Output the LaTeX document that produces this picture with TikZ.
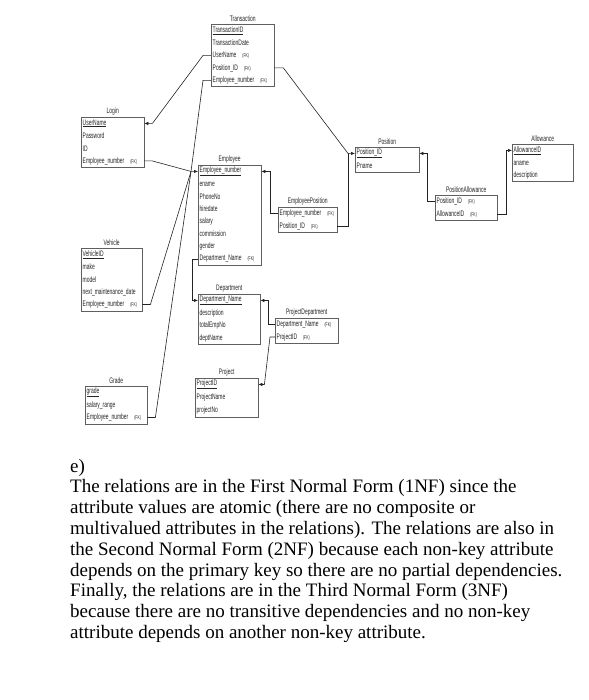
\documentclass[tikz,border=0pt]{standalone}
\usepackage{fontspec}
\setmainfont{Liberation Serif}
\newfontfamily\erfont[FakeStretch=0.62]{Liberation Sans}
\usetikzlibrary{arrows.meta, positioning, calc}
\definecolor{boxgray}{RGB}{95,95,95}
\definecolor{inkgray}{RGB}{35,35,35}
\newcommand{\fk}{\hspace{6pt}{\fontsize{5.5}{6}\selectfont(FK)}}
\newcommand{\pk}[1]{\underline{#1}}
\tikzset{
  erow/.style={anchor=north west, inner xsep=1.5pt, inner ysep=0pt, minimum height=12.5pt,
    text width=#1, align=left, font=\erfont\fontsize{8}{9}\selectfont, text=inkgray},
  etitle/.style={inner sep=1pt, font=\erfont\fontsize{8}{9}\selectfont, text=inkgray},
  ebox/.style={draw=boxgray, line width=0.8pt},
  rel/.style={draw=inkgray, line width=0.6pt},
  relto/.style={rel, -{Latex[length=4pt,width=3.5pt]}},
  essay/.style={anchor=base west, inner sep=0pt, font=\fontsize{19}{21}\selectfont},
}
\begin{document}
\begin{tikzpicture}[x=1pt, y=-1pt]
  \useasboundingbox (0,0) rectangle (588,700);
  % Transaction
  \foreach \t [count=\i] in {{\pk{TransactionID}},TransactionDate,UserName\fk,Position\_ID\fk,Employee\_number\fk}
    \node[erow=60pt] (tr\i) at (211,{24+12.5*(\i-1)}) {\t};
  \draw[ebox] (tr1.north west) rectangle (tr5.south east);
  \node[etitle, above=1pt of tr1] (tr) {Transaction};
  % Login
  \foreach \t [count=\i] in {{\pk{UserName}},Password,ID,Employee\_number\fk}
    \node[erow=60pt] (li\i) at (81,{117+12.5*(\i-1)}) {\t};
  \draw[ebox] (li1.north west) rectangle (li4.south east);
  \node[etitle, above=1pt of li1] (li) {Login};
  % Employee
  \foreach \t [count=\i] in {{\pk{Employee\_number}},ename,PhoneNo,hiredate,salary,commission,gender,Department\_Name\fk}
    \node[erow=60pt] (em\i) at (198,{165+12.5*(\i-1)}) {\t};
  \draw[ebox] (em1.north west) rectangle (em8.south east);
  \node[etitle, above=1pt of em1] (em) {Employee};
  % EmployeePosition
  \foreach \t [count=\i] in {Employee\_number\fk,Position\_ID\fk}
    \node[erow=56pt] (ep\i) at (278,{207+12.5*(\i-1)}) {\t};
  \draw[ebox] (ep1.north west) rectangle (ep2.south east);
  \node[etitle, above=1pt of ep1] (ep) {EmployeePosition};
  % Position
  \foreach \t [count=\i] in {{\pk{Position\_ID}},Pname}
    \node[erow=61pt] (po\i) at (355,{147+12.5*(\i-1)}) {\t};
  \draw[ebox] (po1.north west) rectangle (po2.south east);
  \node[etitle, above=1pt of po1] (po) {Position};
  % PositionAllowance
  \foreach \t [count=\i] in {Position\_ID\fk,AllowanceID\fk}
    \node[erow=59pt] (pa\i) at (435,{195+12.5*(\i-1)}) {\t};
  \draw[ebox] (pa1.north west) rectangle (pa2.south east);
  \node[etitle, above=1pt of pa1] (pa) {PositionAllowance};
  % Allowance
  \foreach \t [count=\i] in {{\pk{AllowanceID}},aname,description}
    \node[erow=58pt] (al\i) at (512,{144+12.5*(\i-1)}) {\t};
  \draw[ebox] (al1.north west) rectangle (al3.south east);
  \node[etitle, above=1pt of al1] (al) {Allowance};
  % Vehicle
  \foreach \t [count=\i] in {{\pk{VehicleID}},make,model,next\_maintenance\_date,Employee\_number\fk}
    \node[erow=58pt] (ve\i) at (81,{248+12.5*(\i-1)}) {\t};
  \draw[ebox] (ve1.north west) rectangle (ve5.south east);
  \node[etitle, above=1pt of ve1] (ve) {Vehicle};
  % Department
  \foreach \t [count=\i] in {{\pk{Department\_Name}},description,totalEmpNo,deptName}
    \node[erow=59pt] (de\i) at (198,{294+12.5*(\i-1)}) {\t};
  \draw[ebox] (de1.north west) rectangle (de4.south east);
  \node[etitle, above=1pt of de1] (de) {Department};
  % ProjectDepartment
  \foreach \t [count=\i] in {Department\_Name\fk,ProjectID\fk}
    \node[erow=60pt] (pd\i) at (275,{318+12.5*(\i-1)}) {\t};
  \draw[ebox] (pd1.north west) rectangle (pd2.south east);
  \node[etitle, above=1pt of pd1] (pd) {ProjectDepartment};
  % Grade
  \foreach \t [count=\i] in {{\pk{grade}},salary\_range,Employee\_number\fk}
    \node[erow=59pt] (gr\i) at (85,{386+12.5*(\i-1)}) {\t};
  \draw[ebox] (gr1.north west) rectangle (gr3.south east);
  \node[etitle, above=1pt of gr1] (gr) {Grade};
  % Project
  \foreach \t [count=\i] in {{\pk{ProjectID}},ProjectName,projectNo}
    \node[erow=60pt] (pj\i) at (195,{378+13*(\i-1)}) {\t};
  \draw[ebox] (pj1.north west) rectangle (pj3.south east);
  \node[etitle, above=1pt of pj1] (pj) {Project};

  % relationships
  \coordinate (emhub) at ($(em1.west)+(-7,0)$);
  \draw[relto] (tr3.west) -- ++(-8,0) -- ($(li1.east)+(8,0)$) -- (li1.east);
  \draw[relto] (tr5.west) -- ++(-8,0) -- (emhub) -- (em1.west);
  \draw[rel] (li4.east) -- ++(8,0) -- (emhub);
  \draw[rel] (ve5.east) -- ++(8,0) -- (emhub);
  \draw[rel] (gr3.east) -- ++(8,0) -- (emhub);
  \draw[relto] (ep1.west) -- ++(-8,0) |- (em1.east);
  \draw[relto] (tr4.east) -- ++(9,0) -- ($(po1.west)+(-7,0)$) -- (po1.west);
  \draw[rel] (ep2.east) -| ($(po1.west)+(-7,0)$);
  \draw[relto] (pa1.west) -- ++(-8,0) |- (po1.east);
  \draw[relto] (pa2.east) -- ++(9,0) |- (al1.west);
  \draw[relto] (em8.west) -- ++(-6,0) |- (de1.west);
  \draw[relto] (pd1.west) -- ++(-7,0) |- (de1.east);
  \draw[relto] (pd2.west) -- ++(-5,0) -- ($(pj1.east)+(6,0)$) -- (pj1.east);

  % answer text
  \foreach \l [count=\i from 0] in {e),
      The relations are in the First Normal Form (1NF) since the,
      attribute values are atomic (there are no composite or,
      multivalued attributes in the relations). The relations are also in,
      the Second Normal Form (2NF) because each non-key attribute,
      depends on the primary key so there are no partial dependencies.,
      {Finally, the relations are in the Third Normal Form (3NF)},
      because there are no transitive dependencies and no non-key,
      attribute depends on another non-key attribute.}
    \node[essay] (txt\i) at (70,{472+20.8*\i}) {\l};
\end{tikzpicture}
\end{document}
